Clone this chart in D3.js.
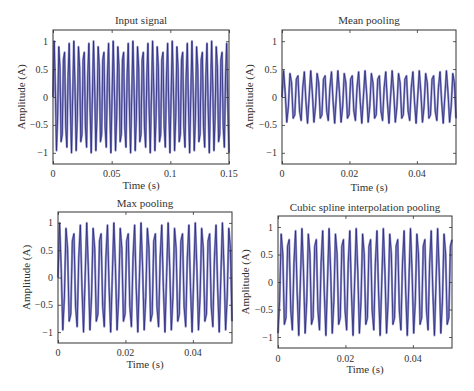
<!DOCTYPE html>
<html><head><meta charset="utf-8">
<script src="https://cdn.jsdelivr.net/npm/d3@7"></script>
<style>body{margin:0;background:#fff}svg{display:block}text{font-family:"Liberation Serif","Times New Roman",serif;fill:#333}</style>
</head><body>
<script>
const inputSignal = [
0,1.00,0.18,-0.96,-0.36,0.90,0.53,-0.80,-0.67,0.67,0.80,-0.53,-0.90,0.36,0.96,-0.18,-1.00,
0,1.00,0.18,-0.96,-0.36,0.90,0.53,-0.80,-0.67,0.67,0.80,-0.53,-0.90,0.36,0.96,-0.18,-1.00,
0,1.00,0.18,-0.96,-0.36,0.90,0.53,-0.80,-0.67,0.67,0.80,-0.53,-0.90,0.36,0.96,-0.18,-1.00,
0,1.00,0.18,-0.96,-0.36,0.90,0.53,-0.80,-0.67,0.67,0.80,-0.53,-0.90,0.36,0.96,-0.18,-1.00,
0,1.00,0.18,-0.96,-0.36,0.90,0.53,-0.80,-0.67,0.67,0.80,-0.53,-0.90,0.36,0.96,-0.18,-1.00,
0,1.00,0.18,-0.96,-0.36,0.90,0.53,-0.80,-0.67,0.67,0.80,-0.53,-0.90,0.36,0.96,-0.18,-1.00,
0,1.00,0.18,-0.96,-0.36,0.90,0.53,-0.80,-0.67,0.67,0.80,-0.53,-0.90,0.36,0.96,-0.18,-1.00,
0,1.00,0.18,-0.96,-0.36,0.90,0.53,-0.80,-0.67,0.67,0.80,-0.53,-0.90,0.36,0.96,-0.18,-1.00,
0,1.00,0.18,-0.96,-0.36,0.90,0.53,-0.80,-0.67,0.67,0.80,-0.53,-0.90,0.36,0.96,-0.18,-1.00
];
const meanPooling = [
0,0.47,0.08,-0.45,-0.17,0.42,0.25,-0.38,-0.32,0.32,0.38,-0.25,-0.42,0.17,0.45,-0.08,-0.47,
0,0.47,0.08,-0.45,-0.17,0.42,0.25,-0.38,-0.32,0.32,0.38,-0.25,-0.42,0.17,0.45,-0.08,-0.47,
0,0.47,0.08,-0.45,-0.17,0.42,0.25,-0.38,-0.32,0.32,0.38,-0.25,-0.42,0.17,0.45,-0.08,-0.47,
0,0.47,0.08,-0.45,-0.17,0.42,0.25,-0.38,-0.32,0.32,0.38,-0.25,-0.42,0.17,0.45,-0.08,-0.47,
0,0.47,0.08,-0.45,-0.17,0.42,0.25,-0.38,-0.32,0.32,0.38,-0.25,-0.42,0.17,0.45,-0.08,-0.47,
0,0.47,0.08,-0.45,-0.17,0.42,0.25,-0.38,-0.32,0.32,0.38,-0.25,-0.42,0.17,0.45,-0.08,-0.47,
0,0.47,0.08,-0.45,-0.17,0.42,0.25,-0.38
];
const maxPooling = [
0,1.00,0.18,-0.96,-0.36,0.90,0.53,-0.80,-0.67,0.67,0.80,-0.53,-0.90,0.36,0.96,-0.18,-1.00,
0,1.00,0.18,-0.96,-0.36,0.90,0.53,-0.80,-0.67,0.67,0.80,-0.53,-0.90,0.36,0.96,-0.18,-1.00,
0,1.00,0.18,-0.96,-0.36,0.90,0.53,-0.80,-0.67,0.67,0.80,-0.53,-0.90,0.36,0.96,-0.18,-1.00,
0,1.00,0.18,-0.96,-0.36,0.90,0.53,-0.80,-0.67,0.67,0.80,-0.53,-0.90,0.36,0.96,-0.18,-1.00,
0,1.00,0.18,-0.96,-0.36,0.90,0.53,-0.80,-0.67,0.67,0.80,-0.53,-0.90,0.36,0.96,-0.18,-1.00,
0,1.00,0.18,-0.96,-0.36,0.90,0.53,-0.80,-0.67,0.67,0.80,-0.53,-0.90,0.36,0.96,-0.18,-1.00,
0,1.00,0.18,-0.96,-0.36,0.90,0.53,-0.80
];
const splinePooling = [
-0.93,-0.35,0.87,0.51,-0.77,-0.65,0.65,0.77,-0.51,-0.87,0.35,0.93,-0.18,-0.97,0,0.97,0.18,
-0.93,-0.35,0.87,0.51,-0.77,-0.65,0.65,0.77,-0.51,-0.87,0.35,0.93,-0.18,-0.97,0,0.97,0.18,
-0.93,-0.35,0.87,0.51,-0.77,-0.65,0.65,0.77,-0.51,-0.87,0.35,0.93,-0.18,-0.97,0,0.97,0.18,
-0.93,-0.35,0.87,0.51,-0.77,-0.65,0.65,0.77,-0.51,-0.87,0.35,0.93,-0.18,-0.97,0,0.97,0.18,
-0.93,-0.35,0.87,0.51,-0.77,-0.65,0.65,0.77,-0.51,-0.87,0.35,0.93,-0.18,-0.97,0,0.97,0.18,
-0.93,-0.35,0.87,0.51,-0.77,-0.65,0.65,0.77,-0.51,-0.87,0.35,0.93,-0.18,-0.97,0,0.97,0.18,
-0.93,-0.35,0.87,0.51,-0.77,-0.65,0.65,0.77
];
const titles = ["Input signal","Mean pooling","Max pooling","Cubic spline interpolation pooling"];
const xTicksInput = [0,0.05,0.1,0.15];
const xTickLabelsInput = ["0","0.05","0.1","0.15"];
const xTicksPooled = [0,0.02,0.04];
const xTickLabelsPooled = ["0","0.02","0.04"];
const yTicks = [1,0.5,0,-0.5,-1];
const yTickLabels = ["1","0.5","0","\u22120.5","\u22121"];
const xMaxInput = 0.15, xMaxPooled = 0.0516;
const yDomain = [-1.2,1.2];
const xLabel = "Time (s)", yLabel = "Amplitude (A)";

// ---- layout ----
const panels = [
 {t:titles[0], d:inputSignal, xMax:xMaxInput, xt:xTicksInput, xl:xTickLabelsInput,
  box:[53,30,229,164], titleY:20, tickY:173, xlabY:185, ylabX:21},
 {t:titles[1], d:meanPooling, xMax:xMaxPooled, xt:xTicksPooled, xl:xTickLabelsPooled,
  box:[282,30,456,164], titleY:20, tickY:173, xlabY:187, ylabX:249},
 {t:titles[2], d:maxPooling, xMax:xMaxPooled, xt:xTicksPooled, xl:xTickLabelsPooled,
  box:[58,212,232,343], titleY:203, tickY:352, xlabY:364, ylabX:26},
 {t:titles[3], d:splinePooling, xMax:xMaxPooled, xt:xTicksPooled, xl:xTickLabelsPooled,
  box:[278,216,452,348], titleY:207, tickY:358, xlabY:369, ylabX:245}
];

const svg = d3.select("body").append("svg").attr("width",474).attr("height",391);
const ink = "#333";

panels.forEach(p=>{
  const [x0,y0,x1,y1] = p.box;
  const x = d3.scaleLinear().domain([0,p.xMax]).range([x0,x1]);
  const y = d3.scaleLinear().domain(yDomain).range([y1,y0]);
  const g = svg.append("g");
  const n = p.d.length;
  const dt = p.xMax/(n-1);
  const line = d3.line().x((v,i)=>x(i*dt)).y(v=>y(v));
  // soft halo + dark core to mimic the rasterised trace
  g.append("path").attr("d",line(p.d)).attr("fill","none")
    .attr("stroke","#9494cc").attr("stroke-width",2.2).attr("stroke-linejoin","round");
  g.append("path").attr("d",line(p.d)).attr("fill","none")
    .attr("stroke","#27277a").attr("stroke-width",0.8);

  // axes with inward ticks on all sides
  const tl = 3;
  g.append("g").attr("transform",`translate(0,${y1})`)
   .call(d3.axisBottom(x).tickValues(p.xt).tickSizeInner(-tl).tickSizeOuter(0).tickFormat(()=>""));
  g.append("g").attr("transform",`translate(0,${y0})`)
   .call(d3.axisTop(x).tickValues(p.xt).tickSizeInner(-tl).tickSizeOuter(0).tickFormat(()=>""));
  g.append("g").attr("transform",`translate(${x0},0)`)
   .call(d3.axisLeft(y).tickValues(yTicks).tickSizeInner(-tl).tickSizeOuter(0).tickFormat(()=>""));
  g.append("g").attr("transform",`translate(${x1},0)`)
   .call(d3.axisRight(y).tickValues(yTicks).tickSizeInner(-tl).tickSizeOuter(0).tickFormat(()=>""));
  g.selectAll(".domain").remove();
  g.selectAll(".tick line").attr("stroke",ink).attr("stroke-width",0.8);
  g.append("rect").attr("x",x0).attr("y",y0).attr("width",x1-x0).attr("height",y1-y0)
   .attr("fill","none").attr("stroke",ink).attr("stroke-width",1);

  // tick labels
  p.xt.forEach((v,i)=>{
    g.append("text").attr("x",x(v)).attr("y",p.tickY).attr("text-anchor","middle")
     .attr("dominant-baseline","central").attr("font-size",10).text(p.xl[i]);
  });
  yTicks.forEach((v,i)=>{
    g.append("text").attr("x",x0-5).attr("y",y(v)).attr("text-anchor","end")
     .attr("dominant-baseline","central").attr("font-size",10).text(yTickLabels[i]);
  });
  g.append("text").attr("x",(x0+x1)/2).attr("y",p.titleY).attr("text-anchor","middle")
   .attr("dominant-baseline","central").attr("font-size",11).text(p.t);
  g.append("text").attr("x",(x0+x1)/2).attr("y",p.xlabY).attr("text-anchor","middle")
   .attr("dominant-baseline","central").attr("font-size",11).text(xLabel);
  g.append("text").attr("transform",`translate(${p.ylabX},${(y0+y1)/2}) rotate(-90)`)
   .attr("text-anchor","middle").attr("dominant-baseline","central").attr("font-size",11).text(yLabel);
});
</script>
</body></html>
